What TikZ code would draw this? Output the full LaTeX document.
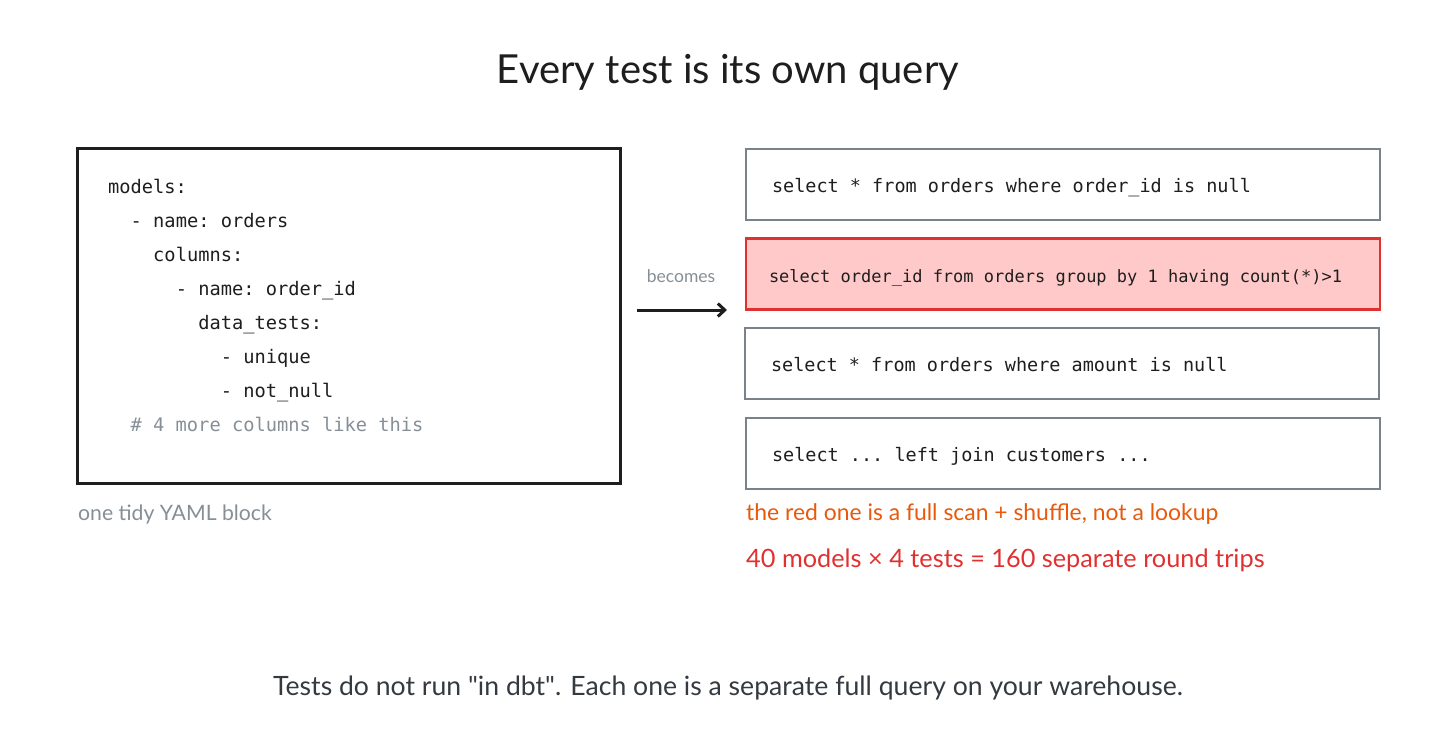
\documentclass[tikz,border=0pt]{standalone}
\usepackage{fontspec}
\setmainfont{Lato}
\setmonofont{DejaVu Sans Mono}
\usetikzlibrary{arrows.meta,positioning}

\definecolor{ink}{HTML}{1E1E1E}
\definecolor{slate}{HTML}{343A40}
\definecolor{inkgray}{HTML}{868E96}
\definecolor{boxgray}{HTML}{7A828B}
\definecolor{hotred}{HTML}{E03131}
\definecolor{pinkfill}{HTML}{FFC9C9}
\definecolor{burnt}{HTML}{E8590C}

\tikzset{
  query/.style={draw=boxgray, line width=2.6pt, minimum height=71pt, text width=582pt,
    text height=18pt, text depth=2pt,
    inner xsep=26pt, align=left, text=ink, font=\ttfamily\fontsize{18.5}{22}\selectfont,
    execute at begin node={\spaceskip=0pt\xspaceskip=0pt\relax}},
  hot/.style={query, draw=hotred, fill=pinkfill, inner xsep=23pt, text width=588pt,
    text height=19pt, font=\ttfamily\fontsize{17}{20}\selectfont},
  codeline/.style={anchor=base west, inner sep=0pt, text=ink,
    font=\ttfamily\fontsize{18.7}{22}\selectfont},
  hand/.style={anchor=base west, inner sep=0pt, font=\fontsize{22.9}{26}\selectfont}
}

\begin{document}
\begin{tikzpicture}[x=1pt, y=-1pt]
  \useasboundingbox (0,0) rectangle (1456,728);

  \node[font=\fontsize{40}{46}\selectfont, text=ink] (title) at (728,72) {Every test is its own query};

  % the yaml block
  \node[draw=ink, line width=3pt, minimum width=543pt, minimum height=335pt] (yaml) at (348.5,315.5) {};
  \foreach \ind/\txt [count=\i from 0] in {0/models:, 2/- name: orders, 4/columns:,
      6/- name: order\_id, 8/data\_tests:, 10/- unique, 10/- not\_null}
    \node[codeline] (line\i) at (108+\ind*11.26, 193+\i*34) {\txt};
  \node[codeline, text=inkgray] (comment) at (130.5,431) {\# 4 more columns like this};
  \node[hand, text=inkgray, font=\fontsize{21.2}{25}\selectfont] (tidy) at (78,520) {one tidy YAML block};

  % the queries
  \node[query] (q1) at (1063,184.5) {select * from orders where order\_id is null};
  \node[hot]   (q2) at (1063,274) {select order\_id from orders group by 1 having count(*)>1};
  \node[query] (q3) at (1062,363.5) {select * from orders where amount is null};
  \node[query] (q4) at (1063,453.5) {select ... left join customers ...};

  \coordinate (src) at (637,310);
  \coordinate (dst) at (727,310);
  \draw[line width=3pt, ink, -{Straight Barb[length=7pt, width=13pt]}] (src) -- (dst);
  \node[text=inkgray, font=\fontsize{17.5}{20}\selectfont] (becomes) at (681,276) {becomes};

  \node[hand, text=burnt] (note) at (746,520) {the red one is a full scan + shuffle, not a lookup};
  \node[hand, text=hotred, font=\fontsize{25.3}{29}\selectfont] (trips) at (746,567)
    {40 models × 4 tests = 160 separate round trips};

  \node[text=slate, font=\fontsize{26.6}{30}\selectfont] (caption) at (728,688)
    {Tests do not run \textquotedbl in dbt\textquotedbl. Each one is a separate full query on your warehouse.};
\end{tikzpicture}
\end{document}
